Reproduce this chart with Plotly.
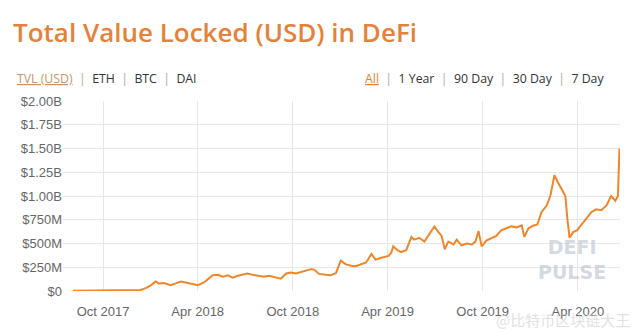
import plotly.graph_objects as go

dates = [
    "2017-08-04", "2017-09-06", "2017-10-14", "2017-11-22", "2017-12-12", "2017-12-22",
    "2018-01-01", "2018-01-10", "2018-01-16", "2018-01-26", "2018-02-08", "2018-02-18",
    "2018-02-27", "2018-03-09", "2018-03-23", "2018-04-01", "2018-04-13", "2018-04-20",
    "2018-04-30", "2018-05-10", "2018-05-19", "2018-05-29", "2018-06-07", "2018-06-17",
    "2018-06-26", "2018-07-06", "2018-07-16", "2018-07-27", "2018-08-06", "2018-08-16",
    "2018-08-25", "2018-09-08", "2018-09-18", "2018-09-27", "2018-10-07", "2018-10-17",
    "2018-10-26", "2018-11-05", "2018-11-11", "2018-11-20", "2018-12-04", "2018-12-13",
    "2018-12-23", "2019-01-01", "2019-01-11", "2019-01-21", "2019-01-30", "2019-02-09",
    "2019-02-19", "2019-03-01", "2019-03-09", "2019-03-20", "2019-04-03", "2019-04-08",
    "2019-04-12", "2019-04-20", "2019-04-27", "2019-05-07", "2019-05-17", "2019-05-22",
    "2019-06-01", "2019-06-11", "2019-06-21", "2019-06-30", "2019-07-08", "2019-07-14",
    "2019-07-20", "2019-07-27", "2019-08-06", "2019-08-12", "2019-08-21", "2019-08-31",
    "2019-09-10", "2019-09-17", "2019-09-23", "2019-09-29", "2019-10-08", "2019-10-18",
    "2019-10-27", "2019-11-06", "2019-11-16", "2019-11-25", "2019-12-05", "2019-12-15",
    "2019-12-20", "2019-12-28", "2020-01-07", "2020-01-14", "2020-01-22", "2020-02-01",
    "2020-02-08", "2020-02-16", "2020-02-22", "2020-02-27", "2020-03-04", "2020-03-08",
    "2020-03-12", "2020-03-16", "2020-03-23", "2020-03-31", "2020-04-08", "2020-04-17",
    "2020-04-27", "2020-05-06", "2020-05-16", "2020-05-26", "2020-06-04", "2020-06-12",
    "2020-06-17", "2020-06-20",
]
tvl_musd = [
    3, 4, 5, 6, 10, 30,
    60, 100, 80, 85, 62, 80,
    100, 90, 70, 60, 90, 120,
    165, 170, 150, 165, 140, 160,
    175, 185, 170, 160, 150, 160,
    150, 130, 185, 195, 185, 200,
    210, 230, 225, 180, 170, 165,
    190, 320, 280, 265, 260, 280,
    300, 390, 330, 350, 370, 400,
    470, 430, 410, 430, 570, 540,
    560, 520, 600, 680, 620, 580,
    440, 520, 490, 540, 480, 500,
    490, 520, 630, 470, 530, 560,
    580, 640, 660, 680, 670, 690,
    570, 660, 690, 700, 830, 900,
    1000, 1220, 1150, 1100, 1050, 1000,
    750, 560, 620, 640, 700, 760,
    830, 860, 850, 900, 1000, 950,
    1000, 1500,
]

ytick_vals = [0, 250e6, 500e6, 750e6, 1000e6, 1250e6, 1500e6, 1750e6, 2000e6]
ytick_text = ["$0", "$250M", "$500M", "$750M", "$1.00B", "$1.25B", "$1.50B", "$1.75B", "$2.00B"]
xtick_vals = ["2017-10-01", "2018-04-01", "2018-10-01", "2019-04-01", "2019-10-01", "2020-04-01"]
xtick_text = ["Oct 2017", "Apr 2018", "Oct 2018", "Apr 2019", "Oct 2019", "Apr 2020"]

title_text = "Total Value Locked (USD) in DeFi"

fig = go.Figure()
fig.add_trace(go.Scatter(
    x=dates, y=[v * 1e6 for v in tvl_musd], mode="lines",
    line=dict(color="#f0862a", width=2), hoverinfo="skip", showlegend=False,
))

W, H = 640, 332
L, R, T, B = 63, 20, 101, 41
pw, ph = W - L - R, H - T - B

def px(x):
    return (x - L) / pw

def py(y):
    return (H - B - y) / ph

SEP = "<span style='color:#aaa'>  |  </span>"
annotations = [
    dict(text=title_text, x=px(11), y=py(32), xanchor="left", yanchor="middle",
         font=dict(family="Open Sans", size=26, color="#e5823a", weight=600)),
    dict(text=("<span style='color:#c99366'><u>TVL (USD)</u></span>" + SEP + "ETH" + SEP
               + "BTC" + SEP + "DAI"),
         x=px(15), y=py(78), xanchor="left", yanchor="middle",
         font=dict(family="Open Sans", size=12.3, color="#333")),
    dict(text=("<span style='color:#e5823a'><u>All</u></span>" + SEP + "1 Year" + SEP
               + "90 Day" + SEP + "30 Day" + SEP + "7 Day"),
         x=px(606), y=py(78), xanchor="right", yanchor="middle",
         font=dict(family="Open Sans", size=12.3, color="#333")),
    dict(text="DEFI<br>PULSE", x=px(572), y=py(259), xanchor="center", yanchor="middle",
         font=dict(family="DejaVu Sans", size=19, color="rgba(195,200,210,0.7)", weight="bold")),
    dict(text="@比特币区块链大王", x=px(632), y=py(319), xanchor="right", yanchor="middle",
         font=dict(family="Noto Sans CJK SC", size=15, color="rgba(205,205,205,0.6)")),
]
for a in annotations:
    a.update(xref="paper", yref="paper", showarrow=False)

fig.update_layout(
    width=W, height=H,
    margin=dict(l=L, r=R, t=T, b=B, pad=0),
    paper_bgcolor="white", plot_bgcolor="white",
    annotations=annotations,
    xaxis=dict(
        type="date", range=["2017-07-16", "2020-06-21"],
        tickvals=xtick_vals, ticktext=xtick_text,
        showgrid=True, gridcolor="#e6e6e6", gridwidth=1,
        zeroline=False, showline=False, ticks="", ticklabelstandoff=11,
        tickfont=dict(family="Liberation Sans", size=13, color="#666"),
    ),
    yaxis=dict(
        range=[0, 2e9], tickvals=ytick_vals, ticktext=ytick_text,
        showgrid=True, gridcolor="#e6e6e6", gridwidth=1,
        zeroline=False, showline=False, ticks="", ticklabelstandoff=0,
        tickfont=dict(family="Liberation Sans", size=13, color="#666"),
    ),
)

fig.write_html("out.html")
